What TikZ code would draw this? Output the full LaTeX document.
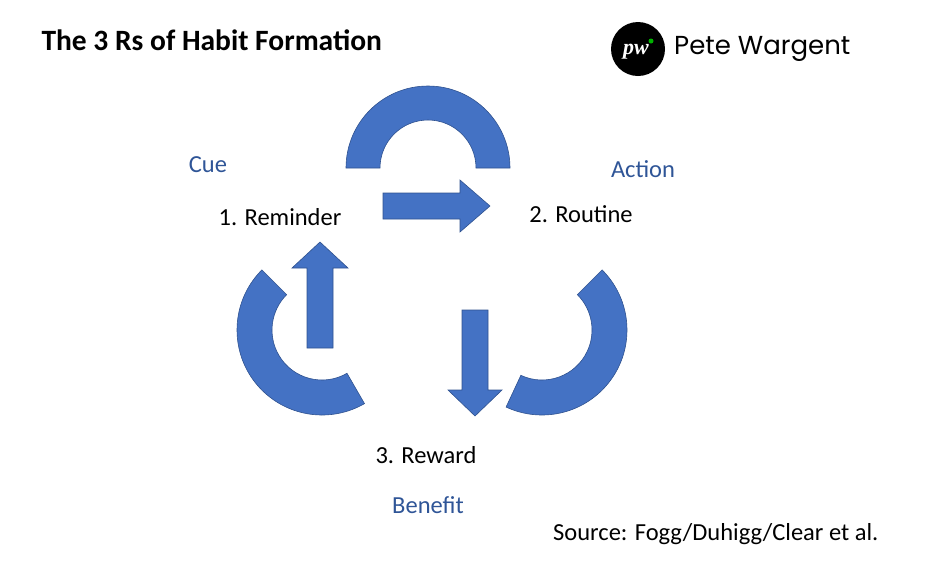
\documentclass[tikz,border=0pt]{standalone}
\usepackage{fontspec}
\setmainfont{Carlito}
\newfontfamily\logofont{Poppins}
\begin{document}
\begin{tikzpicture}[x=1pt,y=-1pt,
  shp/.style={fill=myblue,draw=myedge,line width=0.6pt},
  lbl/.style={font=\fontsize{24.5}{28}\selectfont,text=black},
  cat/.style={font=\fontsize{24.5}{28}\selectfont,text=catblue}]
\definecolor{myblue}{HTML}{4472C4}
\definecolor{myedge}{HTML}{2F528F}
\definecolor{catblue}{HTML}{2F5597}
\useasboundingbox (0,0) rectangle (942,566);
% top arc
\path[shp] (346,168) arc[start angle=180,end angle=360,radius=82] -- (476,168)
  arc[start angle=360,end angle=180,radius=48] -- cycle;
% left arc; center (322,330)
\path[shp] ([shift={(-135:85)}]322,330) arc[start angle=-135,end angle=-300,radius=85]
  -- ([shift={(-300:50)}]322,330) arc[start angle=-300,end angle=-135,radius=50] -- cycle;
% right arc; center (542,330)
\path[shp] ([shift={(-45:85)}]542,330) arc[start angle=-45,end angle=115,radius=85]
  -- ([shift={(115:50)}]542,330) arc[start angle=115,end angle=-45,radius=50] -- cycle;
% arrows
\path[shp] (383,193) -- (460,193) -- (460,180) -- (490,206) -- (460,232) -- (460,219) -- (383,219) -- cycle;
\path[shp] (307,348) -- (307,268) -- (292,268) -- (320,242) -- (348,268) -- (333,268) -- (333,348) -- cycle;
\path[shp] (462,310) -- (488,310) -- (488,390) -- (502,390) -- (475,416) -- (448,390) -- (462,390) -- cycle;
% texts
\node[anchor=west,font=\fontsize{29.5}{32}\selectfont\bfseries] (title) at (38,40) {The 3 Rs of Habit Formation};
\node[cat] (cue) at (208,165) {Cue};
\node[cat] (act) at (643,169) {Action};
\node[cat] (ben) at (428,505) {Benefit};
\node[lbl] (r1) at (280,217) {1. Reminder};
\node[lbl] (r2) at (581,214) {2. Routine};
\node[lbl] (r3) at (426,455) {3. Reward};
\node[lbl,anchor=east] (src) at (882,534) {Source: Fogg/Duhigg/Clear et al.};
% logo
\fill[black] (638,49) circle[radius=27];
\node[text=white,font=\fontsize{22}{24}\selectfont\itshape\bfseries\rmfamily] (pw) at (636,52) {\fontspec{Liberation Serif}pw};
\fill[green!70!black] (651,41) circle[radius=2.5];
\node[anchor=west,font=\logofont\fontsize{26}{28}\selectfont,inner sep=0pt] (name) at (674,49) {Pete Wargent};
\end{tikzpicture}
\end{document}
